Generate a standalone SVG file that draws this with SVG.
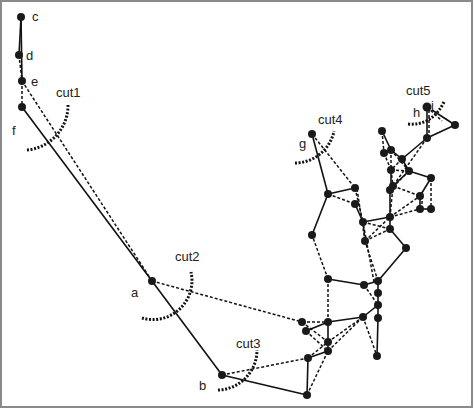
<svg xmlns="http://www.w3.org/2000/svg" width="474" height="409" viewBox="0 0 474 409">
<style>
.s{stroke:#111;stroke-width:1.6;fill:none}
.d{stroke:#111;stroke-width:1.5;fill:none;stroke-dasharray:3,2}
.cut{stroke:#111;stroke-width:3;fill:none;stroke-dasharray:2,1.6}
.n{fill:#1a1a1a}
.t{font-family:"Liberation Sans",Arial,sans-serif;font-size:13px;fill:#222}
</style>
<rect x="1" y="1" width="471" height="406" fill="#fff" stroke="#8a8a8a" stroke-width="2"/>
<g id="connectors">
<line class="s" x1="21" y1="17" x2="19" y2="55"/>
<line class="s" x1="21" y1="17" x2="22" y2="81"/>
<line class="d" x1="19" y1="55" x2="22" y2="81"/>
<line class="d" x1="22" y1="81" x2="22" y2="107"/>
<line class="s" x1="22" y1="107" x2="152" y2="281"/>
<line class="d" x1="22" y1="81" x2="152" y2="281"/>
<line class="s" x1="152" y1="281" x2="222" y2="375"/>
<line class="d" x1="152" y1="281" x2="302" y2="322"/>
<line class="d" x1="222" y1="375" x2="308" y2="358"/>
<line class="s" x1="222" y1="375" x2="307" y2="395"/>
<line class="s" x1="308" y1="358" x2="307" y2="395"/>
<line class="d" x1="307" y1="395" x2="328" y2="351"/>
<line class="s" x1="308" y1="358" x2="328" y2="351"/>
<line class="d" x1="308" y1="358" x2="328" y2="342"/>
<line class="d" x1="302" y1="322" x2="328" y2="322"/>
<line class="s" x1="306" y1="331" x2="328" y2="322"/>
<line class="d" x1="302" y1="322" x2="328" y2="342"/>
<line class="d" x1="306" y1="331" x2="328" y2="351"/>
<line class="s" x1="328" y1="322" x2="328" y2="351"/>
<line class="s" x1="328" y1="322" x2="363" y2="317"/>
<line class="d" x1="328" y1="322" x2="328" y2="279"/>
<line class="d" x1="328" y1="342" x2="363" y2="317"/>
<line class="d" x1="328" y1="351" x2="363" y2="317"/>
<line class="s" x1="363" y1="317" x2="378" y2="305"/>
<line class="d" x1="363" y1="317" x2="377" y2="356"/>
<line class="s" x1="378" y1="318" x2="377" y2="356"/>
<line class="s" x1="378" y1="305" x2="378" y2="318"/>
<line class="s" x1="378" y1="293" x2="378" y2="305"/>
<line class="s" x1="378" y1="281" x2="378" y2="293"/>
<line class="d" x1="364" y1="285" x2="378" y2="305"/>
<line class="s" x1="328" y1="279" x2="364" y2="285"/>
<line class="s" x1="364" y1="285" x2="378" y2="281"/>
<line class="s" x1="378" y1="281" x2="406" y2="248"/>
<line class="d" x1="378" y1="281" x2="365" y2="241"/>
<line class="d" x1="374" y1="282" x2="363" y2="222"/>
<line class="d" x1="328" y1="279" x2="312" y2="235"/>
<line class="s" x1="312" y1="235" x2="328" y2="194"/>
<line class="s" x1="328" y1="194" x2="312" y2="134"/>
<line class="d" x1="312" y1="134" x2="355" y2="188"/>
<line class="s" x1="328" y1="194" x2="355" y2="188"/>
<line class="d" x1="328" y1="194" x2="355" y2="204"/>
<line class="d" x1="355" y1="188" x2="363" y2="222"/>
<line class="d" x1="357" y1="189" x2="365" y2="241"/>
<line class="s" x1="355" y1="204" x2="363" y2="222"/>
<line class="d" x1="363" y1="222" x2="365" y2="241"/>
<line class="s" x1="363" y1="222" x2="390" y2="217"/>
<line class="d" x1="363" y1="222" x2="390" y2="229"/>
<line class="d" x1="365" y1="241" x2="390" y2="217"/>
<line class="d" x1="365" y1="241" x2="390" y2="229"/>
<line class="s" x1="390" y1="217" x2="390" y2="229"/>
<line class="s" x1="390" y1="229" x2="406" y2="248"/>
<line class="s" x1="390" y1="217" x2="390" y2="190"/>
<line class="d" x1="390" y1="217" x2="393" y2="186"/>
<line class="d" x1="390" y1="217" x2="420" y2="196"/>
<line class="d" x1="390" y1="217" x2="420" y2="209"/>
<line class="d" x1="382" y1="131" x2="384" y2="153"/>
<line class="s" x1="382" y1="131" x2="391" y2="150"/>
<line class="s" x1="391" y1="150" x2="402" y2="159"/>
<line class="d" x1="384" y1="153" x2="391" y2="170"/>
<line class="d" x1="391" y1="150" x2="391" y2="170"/>
<line class="d" x1="391" y1="150" x2="409" y2="171"/>
<line class="d" x1="402" y1="159" x2="391" y2="170"/>
<line class="s" x1="402" y1="159" x2="427" y2="138"/>
<line class="s" x1="402" y1="159" x2="409" y2="171"/>
<line class="d" x1="391" y1="170" x2="409" y2="171"/>
<line class="s" x1="391" y1="170" x2="391" y2="188"/>
<line class="d" x1="391" y1="170" x2="393" y2="186"/>
<line class="s" x1="409" y1="171" x2="393" y2="186"/>
<line class="d" x1="409" y1="171" x2="390" y2="190"/>
<line class="d" x1="427" y1="138" x2="393" y2="186"/>
<line class="s" x1="409" y1="171" x2="431" y2="178"/>
<line class="s" x1="431" y1="178" x2="420" y2="196"/>
<line class="d" x1="431" y1="178" x2="431" y2="209"/>
<line class="s" x1="420" y1="196" x2="420" y2="209"/>
<line class="d" x1="422" y1="196" x2="422" y2="209"/>
<line class="s" x1="420" y1="209" x2="431" y2="209"/>
<line class="d" x1="393" y1="186" x2="420" y2="196"/>
<line class="s" x1="427" y1="138" x2="427" y2="107"/>
<line class="d" x1="429" y1="138" x2="429" y2="109"/>
<line class="s" x1="427" y1="138" x2="455" y2="125"/>
<line class="s" x1="432" y1="110" x2="455" y2="125"/>
<line class="d" x1="427" y1="107" x2="442" y2="121"/>
</g>
<g id="cuts">
<path class="cut" d="M27,150 A45,45 0 0 0 68,104"/>
<path class="cut" d="M142,318 A39,39 0 0 0 191,272"/>
<path class="cut" d="M218,390 A40,40 0 0 0 257,350"/>
<path class="cut" d="M295,163 A40,40 0 0 0 334,131"/>
<path class="cut" d="M408,124 Q432,126 444,102"/>
</g>
<g id="node-c"><circle class="n" cx="21" cy="17" r="4"/><text class="t" x="32" y="21">c</text></g>
<g id="node-d"><circle class="n" cx="19" cy="55" r="4"/><text class="t" x="26" y="60">d</text></g>
<g id="node-e"><circle class="n" cx="22" cy="81" r="4"/><text class="t" x="31" y="86">e</text></g>
<g id="node-f"><circle class="n" cx="22" cy="107" r="4"/><text class="t" x="12" y="135">f</text></g>
<g id="node-a"><circle class="n" cx="152" cy="281" r="4"/><text class="t" x="131" y="297">a</text></g>
<g id="node-b"><circle class="n" cx="222" cy="375" r="4"/><text class="t" x="199" y="390">b</text></g>
<g id="node-g"><circle class="n" cx="312" cy="134" r="4"/><text class="t" x="299" y="148">g</text></g>
<g id="node-h"><circle class="n" cx="427" cy="107" r="4.5"/><text class="t" x="413" y="117">h</text></g>
<g id="node-i"><text class="t" x="431" y="110">i</text></g>
<g id="cluster-nodes">
<circle class="n" cx="328" cy="194" r="4"/>
<circle class="n" cx="355" cy="188" r="4"/>
<circle class="n" cx="355" cy="204" r="4"/>
<circle class="n" cx="312" cy="235" r="4"/>
<circle class="n" cx="363" cy="222" r="4"/>
<circle class="n" cx="365" cy="241" r="4"/>
<circle class="n" cx="390" cy="217" r="4"/>
<circle class="n" cx="390" cy="229" r="4"/>
<circle class="n" cx="406" cy="248" r="4"/>
<circle class="n" cx="328" cy="279" r="4"/>
<circle class="n" cx="364" cy="285" r="4"/>
<circle class="n" cx="378" cy="281" r="4"/>
<circle class="n" cx="378" cy="293" r="4"/>
<circle class="n" cx="378" cy="305" r="4"/>
<circle class="n" cx="363" cy="317" r="4"/>
<circle class="n" cx="378" cy="318" r="4"/>
<circle class="n" cx="377" cy="356" r="4"/>
<circle class="n" cx="302" cy="322" r="4"/>
<circle class="n" cx="328" cy="322" r="4"/>
<circle class="n" cx="306" cy="331" r="4"/>
<circle class="n" cx="328" cy="342" r="4"/>
<circle class="n" cx="328" cy="351" r="4"/>
<circle class="n" cx="308" cy="358" r="4"/>
<circle class="n" cx="307" cy="395" r="4"/>
<circle class="n" cx="382" cy="131" r="4"/>
<circle class="n" cx="384" cy="153" r="4"/>
<circle class="n" cx="391" cy="150" r="4"/>
<circle class="n" cx="402" cy="159" r="4"/>
<circle class="n" cx="391" cy="170" r="4"/>
<circle class="n" cx="409" cy="171" r="4"/>
<circle class="n" cx="393" cy="186" r="4"/>
<circle class="n" cx="390" cy="190" r="4"/>
<circle class="n" cx="431" cy="178" r="4"/>
<circle class="n" cx="420" cy="196" r="4"/>
<circle class="n" cx="420" cy="209" r="4"/>
<circle class="n" cx="431" cy="209" r="4"/>
<circle class="n" cx="427" cy="138" r="4"/>
<circle class="n" cx="455" cy="125" r="4"/>
</g>
<g id="cut-labels">
<text class="t" x="56" y="97">cut1</text>
<text class="t" x="175" y="261">cut2</text>
<text class="t" x="236" y="348">cut3</text>
<text class="t" x="318" y="124">cut4</text>
<text class="t" x="406" y="95">cut5</text>
</g>
</svg>
